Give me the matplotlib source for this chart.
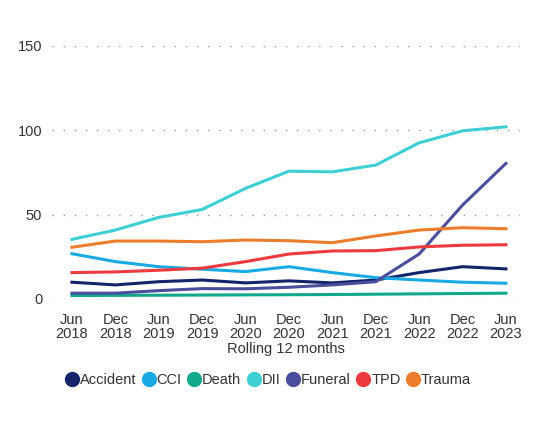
import matplotlib.pyplot as plt
import numpy as np

periods = ["Jun\n2018", "Dec\n2018", "Jun\n2019", "Dec\n2019", "Jun\n2020", "Dec\n2020",
           "Jun\n2021", "Dec\n2021", "Jun\n2022", "Dec\n2022", "Jun\n2023"]

accident = [9.9, 8.3, 10.2, 11.2, 9.5, 10.7, 9.5, 11.2, 15.6, 19.1, 17.8]
cci = [26.8, 22.1, 19.1, 17.6, 16.2, 19.1, 15.6, 12.6, 11.2, 9.9, 9.3]
death = [2.0, 2.1, 2.2, 2.3, 2.4, 2.5, 2.6, 2.8, 3.0, 3.2, 3.4]
dii = [35.3, 40.8, 48.3, 53.0, 65.5, 75.7, 75.3, 79.3, 92.5, 99.6, 102.0]
funeral = [3.4, 3.4, 4.9, 6.1, 6.0, 6.9, 8.3, 10.2, 26.6, 55.6, 80.3]
tpd = [15.6, 16.0, 17.0, 18.2, 22.1, 26.6, 28.4, 28.6, 30.8, 31.8, 32.1]
trauma = [30.6, 34.3, 34.3, 33.9, 34.9, 34.5, 33.3, 37.3, 40.8, 42.2, 41.6]

series = [
    ("Accident", accident, "#13246b"),
    ("CCI", cci, "#19a9e3"),
    ("Death", death, "#11a88b"),
    ("DII", dii, "#3dcfd3"),
    ("Funeral", funeral, "#4a4d9c"),
    ("TPD", tpd, "#ec3a3f"),
    ("Trauma", trauma, "#ec7d2c"),
]

plt.rcParams['font.family'] = ['Liberation Sans', 'DejaVu Sans']

fig = plt.figure(figsize=(5.53, 4.24), dpi=100)
ax = fig.add_axes([0.094, 0.295, 0.846, 0.597])

x = np.arange(len(periods))
for name, vals, col in series:
    ax.plot(x, vals, color=col, lw=2.2, label=name)

ax.set_xlim(-0.46, 10.32)
ax.set_ylim(0, 150)
ax.set_yticks([0, 50, 100, 150])
ax.set_xticks(x)
ax.set_xticklabels(periods, fontsize=10.5, color="#333333", linespacing=1.0)
ax.tick_params(axis="y", labelsize=10.5, labelcolor="#333333", length=0, pad=7)
ax.tick_params(axis="x", length=0, pad=10)
ax.grid(axis="y", linestyle=(0, (1, 7)), color="#999999", lw=1)
ax.set_axisbelow(True)
for s in ax.spines.values():
    s.set_visible(False)

ax.set_xlabel("Rolling 12 months", fontsize=10.5, color="#333333", labelpad=1)

handles = [plt.Line2D([], [], marker="o", ls="", color=c, markersize=10) for _, _, c in series]
fig.legend(handles, [n for n, _, _ in series], loc="center", bbox_to_anchor=(0.485, 0.103),
           ncol=7, frameon=False, fontsize=10.5, handlelength=0.9, handletextpad=0.1,
           columnspacing=0.4, labelcolor="#333333", borderaxespad=0)

fig.savefig("out.png", dpi=100)
